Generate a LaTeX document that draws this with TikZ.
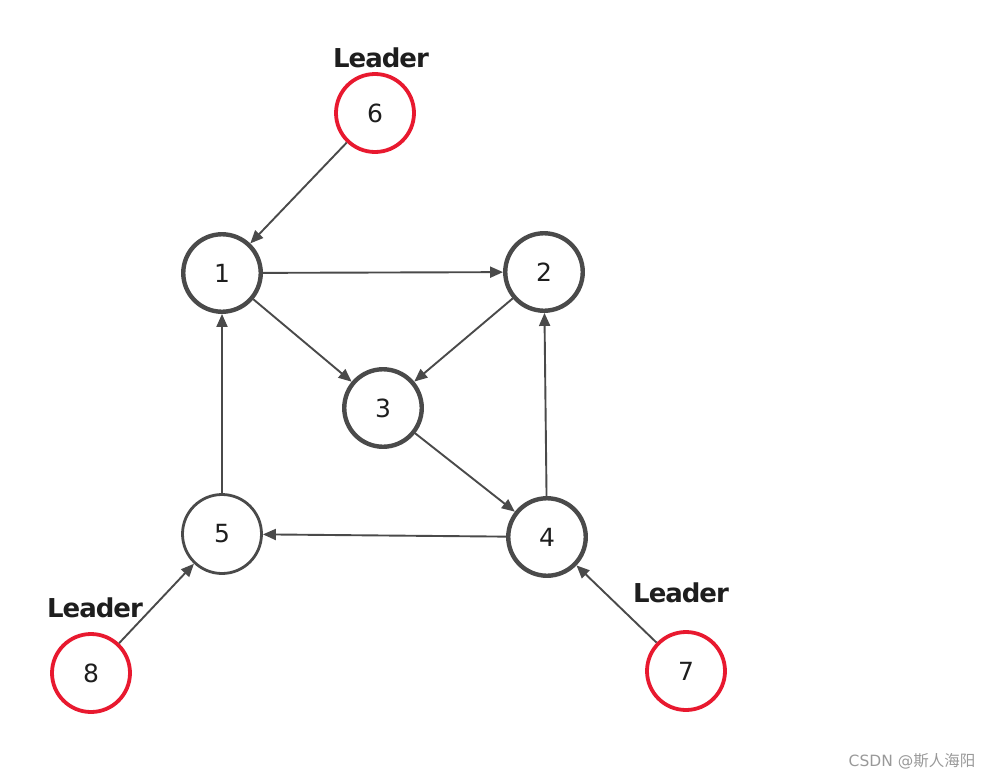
\documentclass[tikz,border=0pt]{standalone}
\usepackage{fontspec}
\setmainfont{DejaVu Sans}
\newfontfamily\cjk{Noto Sans CJK SC}
\newfontfamily\leadfont[LetterSpace=-4]{DejaVu Sans Bold}
\usetikzlibrary{arrows.meta}
\definecolor{edgegray}{HTML}{4A4A4A}
\definecolor{leadred}{HTML}{E8192F}
\definecolor{txt}{HTML}{1E1E1E}
\begin{document}
\begin{tikzpicture}[x=1pt,y=-1pt,
  vnode/.style={circle,draw=edgegray,line width=4.4pt,minimum size=77.5pt,inner sep=0pt,fill=white,font=\fontsize{25}{25}\selectfont,text=txt},
  vthin/.style={vnode,line width=2.8pt,minimum size=79pt},
  lnode/.style={vnode,draw=leadred,line width=3.8pt,minimum size=78pt},
  lbl/.style={font=\leadfont\fontsize{26}{26}\selectfont,text=txt,inner sep=0pt},
  edge/.style={draw=edgegray,line width=1.9pt,-{Triangle[length=13pt,width=11pt]}}]
\useasboundingbox (0,0) rectangle (995,779);
\node[lnode] (n6) at (375,113) {6};
\node[vnode] (n1) at (222,273) {1};
\node[vnode] (n2) at (544,272) {2};
\node[vnode] (n3) at (383,408) {3};
\node[vthin] (n5) at (222,534) {5};
\node[vnode] (n4) at (547,537) {4};
\node[lnode] (n8) at (91,673) {8};
\node[lnode] (n7) at (686,671) {7};
\node[lbl] (l6) at (381,58) {Leader};
\node[lbl] (l8) at (95,608) {Leader};
\node[lbl] (l7) at (681,593) {Leader};
\draw[edge] (n6) -- (n1);
\draw[edge] (n1) -- (n2);
\draw[edge] (n1) -- (n3);
\draw[edge] (n2) -- (n3);
\draw[edge] (n3) -- (n4);
\draw[edge] (n4) -- (n2);
\draw[edge] (n4) -- (n5);
\draw[edge] (n5) -- (n1);
\draw[edge] (n8) -- (n5);
\draw[edge] (n7) -- (n4);
\node[text=gray!80,font=\fontsize{15.5}{15.5}\selectfont,inner sep=0pt] (wm) at (912,761) {CSDN @{\cjk 斯人海阳}};
\end{tikzpicture}
\end{document}
